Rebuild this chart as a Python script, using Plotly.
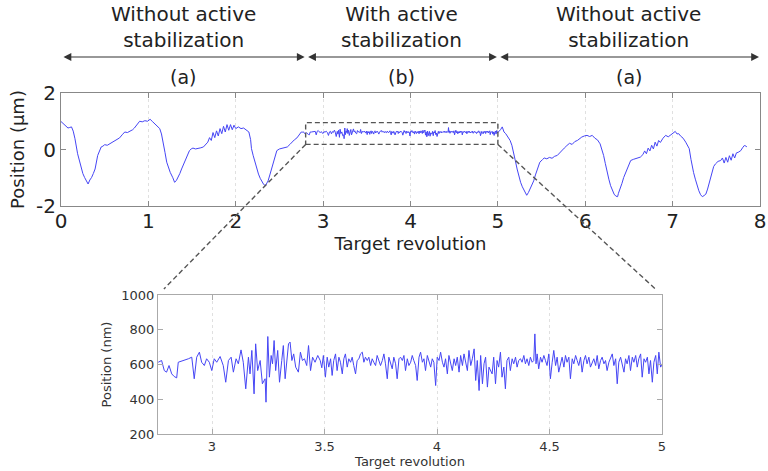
import plotly.graph_objects as go

# ---------------- data ----------------
# Top panel, first part without stabilization (target revolution, position in µm)
segA_x = [0.00, 0.03, 0.06, 0.08, 0.10, 0.12, 0.14, 0.16, 0.19, 0.21,
          0.23, 0.25, 0.27, 0.29, 0.31, 0.33, 0.35, 0.37, 0.39, 0.42,
          0.44, 0.46, 0.48, 0.50, 0.53, 0.56, 0.58, 0.61, 0.64, 0.67,
          0.70, 0.73, 0.76, 0.79, 0.82, 0.84, 0.87, 0.90, 0.93, 0.96,
          0.99, 1.02, 1.05, 1.07, 1.10, 1.13, 1.15, 1.17, 1.19, 1.21,
          1.23, 1.25, 1.28, 1.30, 1.32, 1.34, 1.36, 1.38, 1.40, 1.42,
          1.45, 1.47, 1.49, 1.51, 1.54, 1.57, 1.60, 1.63, 1.66, 1.68,
          1.70, 1.72, 1.74, 1.76, 1.78, 1.80, 1.82, 1.84, 1.86, 1.88,
          1.90, 1.92, 1.94, 1.96, 1.98, 2.00, 2.03, 2.06, 2.09, 2.12,
          2.15, 2.17, 2.18, 2.20, 2.22, 2.24, 2.26, 2.28, 2.30, 2.32,
          2.34, 2.36, 2.37, 2.39, 2.41, 2.44, 2.47, 2.50, 2.53, 2.56,
          2.59, 2.62, 2.64, 2.67, 2.70, 2.73, 2.75]
segA_y = [0.99, 0.90, 0.80, 0.76, 0.78, 0.80, 0.65, 0.38, -0.15, -0.42,
          -0.69, -0.85, -0.99, -1.10, -1.22, -1.08, -0.99, -0.85, -0.69, -0.21,
          -0.05, 0.09, 0.12, 0.17, 0.15, 0.20, 0.24, 0.29, 0.34, 0.41,
          0.52, 0.62, 0.60, 0.64, 0.70, 0.76, 0.88, 1.00, 0.98, 1.02,
          1.00, 1.07, 0.98, 0.92, 0.82, 0.74, 0.55, 0.26, -0.10, -0.45,
          -0.65, -0.81, -1.00, -1.16, -1.10, -0.99, -0.85, -0.69, -0.55, -0.39,
          -0.15, -0.04, 0.02, 0.05, 0.02, 0.03, 0.06, 0.09, 0.18, 0.26,
          0.42, 0.32, 0.60, 0.42, 0.66, 0.48, 0.74, 0.56, 0.82, 0.62,
          0.88, 0.68, 0.88, 0.70, 0.86, 0.74, 0.80, 0.74, 0.76, 0.68,
          0.62, 0.35, 0.03, -0.22, -0.45, -0.68, -0.87, -1.02, -1.16, -1.24,
          -1.28, -1.18, -1.11, -0.90, -0.69, -0.35, -0.04, 0.02, 0.05, 0.06,
          0.09, 0.18, 0.26, 0.34, 0.41, 0.55, 0.62]

# Stabilized part (b), shown enlarged in the lower panel (position in nm)
zoom_x = [2.761, 2.776, 2.788, 2.798, 2.809, 2.821, 2.832, 2.843, 2.850, 2.865,
          2.880, 2.895, 2.910, 2.921, 2.932, 2.944, 2.954, 2.966, 2.976, 2.988,
          2.999, 3.010, 3.021, 3.036, 3.050, 3.061, 3.073, 3.085, 3.095, 3.107,
          3.117, 3.129, 3.139, 3.150, 3.162, 3.169, 3.177, 3.187, 3.194, 3.203,
          3.214, 3.224, 3.236, 3.240, 3.248, 3.255, 3.263, 3.269, 3.276, 3.283,
          3.292, 3.300, 3.310, 3.317, 3.325, 3.334, 3.340, 3.347, 3.355, 3.363,
          3.372, 3.384, 3.393, 3.402, 3.411, 3.421, 3.429, 3.438, 3.447, 3.458,
          3.470, 3.481, 3.488, 3.495,
          3.504, 3.512, 3.519, 3.527, 3.534, 3.541, 3.549, 3.556, 3.564, 3.571,
          3.579, 3.586, 3.593, 3.601, 3.608, 3.616, 3.623, 3.630, 3.638, 3.645,
          3.653, 3.660, 3.668, 3.675, 3.682, 3.690, 3.697, 3.705, 3.712, 3.719,
          3.727, 3.734, 3.742, 3.749, 3.757, 3.764, 3.771, 3.779, 3.786, 3.794,
          3.801, 3.808, 3.816, 3.823, 3.831, 3.838, 3.846, 3.853, 3.860, 3.868,
          3.875, 3.883, 3.890, 3.897, 3.905, 3.912, 3.920, 3.927, 3.935, 3.942,
          3.949, 3.957, 3.964, 3.972, 3.979, 3.986, 3.994, 4.001, 4.009, 4.016,
          4.024, 4.031, 4.038, 4.046, 4.053, 4.061, 4.068, 4.076, 4.083, 4.090,
          4.098, 4.105, 4.113, 4.120, 4.127, 4.135, 4.142, 4.150, 4.157, 4.165,
          4.172, 4.179, 4.187, 4.194, 4.202, 4.209, 4.216, 4.224, 4.231,
          4.245, 4.252, 4.260, 4.267, 4.274, 4.282, 4.289, 4.297, 4.304, 4.311,
          4.319, 4.326, 4.334, 4.341, 4.349, 4.356, 4.363, 4.371, 4.378, 4.386,
          4.393, 4.400, 4.408, 4.415, 4.423, 4.430, 4.435, 4.440, 4.445, 4.452,
          4.460, 4.467, 4.475, 4.482, 4.489, 4.497, 4.504, 4.512, 4.519, 4.527,
          4.534, 4.541, 4.549, 4.556, 4.564, 4.571, 4.578, 4.586, 4.593, 4.601,
          4.608, 4.616, 4.623, 4.630, 4.638, 4.645, 4.653, 4.660, 4.667, 4.675,
          4.682, 4.690, 4.697, 4.705, 4.712, 4.719, 4.727, 4.734, 4.742, 4.749,
          4.756, 4.764, 4.771, 4.779, 4.786, 4.794, 4.801, 4.808, 4.816, 4.823,
          4.831, 4.838, 4.845, 4.853, 4.860, 4.868, 4.875, 4.883, 4.890, 4.897,
          4.905, 4.912, 4.920, 4.927, 4.935, 4.942, 4.949, 4.957, 4.964, 4.972,
          4.979, 4.986, 4.994, 5.000]
zoom_nm = [613, 623, 565, 556, 594, 546, 531, 523, 613, 619,
           623, 633, 642, 518, 642, 671, 613, 594, 633, 613,
           565, 633, 613, 646, 594, 498, 623, 642, 556, 633,
           604, 684, 613, 460, 642, 546, 681, 431, 719, 565,
           623, 489, 518, 383, 761, 527, 652, 604, 738, 565,
           681, 498, 623, 709, 518, 633, 719, 729, 623, 661,
           585, 556, 671, 623, 633, 594, 709, 565, 642, 613,
           652, 623, 581, 652,
           527, 642, 585, 633, 537, 623, 661, 565, 642, 613,
           546, 633, 661, 585, 633, 613, 642, 594, 546, 623,
           633, 661, 671, 613, 642, 623, 642, 594, 633, 613,
           594, 652, 613, 594, 623, 661, 604, 518, 642, 613,
           575, 642, 604, 518, 633, 642, 623, 652, 565, 633,
           594, 613, 652, 623, 594, 508, 642, 671, 613, 633,
           565, 652, 623, 585, 633, 613, 479, 642, 623, 671,
           613, 585, 633, 546, 652, 613, 565, 633, 594, 642,
           556, 652, 594, 661, 604, 565, 681, 594, 633, 690,
           508, 623, 450, 652, 489, 604, 642, 470, 585,
           546, 642, 489, 623, 585, 671, 527, 585, 460, 623,
           642, 565, 633, 604, 642, 585, 623, 633, 613, 652,
           604, 633, 594, 642, 613, 623, 776, 604, 661, 575,
           642, 613, 652, 623, 594, 661, 518, 613, 681, 594,
           642, 556, 613, 642, 585, 652, 613, 642, 518, 633,
           604, 652, 623, 594, 642, 556, 623, 652, 604, 642,
           585, 613, 633, 594, 652, 575, 623, 642, 604, 623,
           565, 613, 642, 661, 594, 633, 489, 613, 642, 594,
           556, 633, 604, 652, 565, 642, 613, 652, 585, 633,
           661, 527, 633, 613, 642, 546, 623, 498, 613, 652,
           546, 671, 585, 604]

# Top panel, last part without stabilization (µm)
segC_x = [5.03, 5.05, 5.07, 5.09, 5.12, 5.14, 5.16, 5.18, 5.20, 5.22,
          5.24, 5.26, 5.28, 5.30, 5.33, 5.35, 5.37, 5.39, 5.41, 5.43,
          5.45, 5.48, 5.51, 5.53, 5.56, 5.59, 5.62, 5.65, 5.68, 5.71,
          5.73, 5.76, 5.79, 5.82, 5.85, 5.88, 5.91, 5.94, 5.96, 5.99,
          6.02, 6.05, 6.08, 6.11, 6.14, 6.17, 6.19, 6.21, 6.23, 6.25,
          6.27, 6.29, 6.31, 6.33, 6.35, 6.37, 6.38, 6.40, 6.42, 6.44,
          6.46, 6.48, 6.50, 6.52, 6.55, 6.58, 6.61, 6.63, 6.66, 6.68,
          6.70, 6.72, 6.74, 6.76, 6.78, 6.80, 6.82, 6.84, 6.86, 6.89,
          6.92, 6.95, 6.98, 7.01, 7.03, 7.05, 7.07, 7.09, 7.12, 7.15,
          7.17, 7.19, 7.21, 7.22, 7.24, 7.26, 7.28, 7.30, 7.32, 7.34,
          7.36, 7.38, 7.40, 7.41, 7.43, 7.45, 7.47, 7.49, 7.52, 7.55,
          7.57, 7.59, 7.61, 7.63, 7.65, 7.67, 7.69, 7.71, 7.73, 7.75,
          7.78, 7.80, 7.82, 7.84, 7.85]
segC_y = [0.70, 0.80, 0.62, 0.56, 0.42, 0.32, 0.15, -0.09, -0.40, -0.69,
          -0.95, -1.16, -1.32, -1.46, -1.62, -1.52, -1.40, -1.25, -1.11, -0.90,
          -0.69, -0.45, -0.36, -0.30, -0.33, -0.28, -0.31, -0.24, -0.21, -0.10,
          -0.04, 0.05, 0.14, 0.22, 0.18, 0.28, 0.32, 0.40, 0.44, 0.48,
          0.50, 0.46, 0.50, 0.40, 0.34, 0.20, 0.00, -0.21, -0.50, -0.81,
          -1.05, -1.28, -1.45, -1.58, -1.65, -1.67, -1.55, -1.40, -1.20, -0.99,
          -0.85, -0.69, -0.52, -0.39, -0.35, -0.33, -0.30, -0.27, -0.18, -0.05,
          -0.15, 0.05, -0.05, 0.15, 0.02, 0.26, 0.12, 0.32, 0.25, 0.40,
          0.50, 0.45, 0.52, 0.58, 0.64, 0.55, 0.56, 0.48, 0.40, 0.26,
          0.15, 0.03, -0.35, -0.57, -0.82, -1.05, -1.28, -1.46, -1.60, -1.67,
          -1.63, -1.58, -1.40, -1.28, -1.00, -0.75, -0.60, -0.51, -0.42, -0.39,
          -0.30, -0.48, -0.28, -0.45, -0.22, -0.38, -0.15, -0.30, -0.12, -0.10,
          -0.04, 0.06, 0.14, 0.12, 0.09]

top_xticks = [0, 1, 2, 3, 4, 5, 6, 7, 8]
top_yticks = [-2, 0, 2]
top_yticklabels = ["-2", "0", "2"]
zoom_xticks = [3, 3.5, 4, 4.5, 5]
zoom_yticks = [200, 400, 600, 800, 1000]

region_bounds = [0, 2.8, 5, 8]
region_titles = ["Without active<br>stabilization",
                 "With active<br>stabilization",
                 "Without active<br>stabilization"]
region_tags = ["(a)", "(b)", "(a)"]
box_x = [2.8, 5.0]
box_y = [0.18, 0.95]

# ---------------- layout geometry ----------------
W, H = 768, 471
TOP_XR, TOP_YR = [0, 8], [-2, 2]
BOT_XR, BOT_YR = [2.76, 5.0], [200, 1000]
TOP_XD = [61 / W, 760 / W]
TOP_YD = [265 / H, 378 / H]
BOT_XD = [158 / W, 662 / W]
BOT_YD = [37 / H, 176 / H]

FONT = "DejaVu Sans"
BLUE = "rgb(50,50,245)"

top_y = segA_y + [v / 1000 for v in zoom_nm] + segC_y
top_x = segA_x + zoom_x + segC_x

fig = go.Figure()
fig.add_trace(go.Scatter(x=top_x, y=top_y, mode="lines",
                         line=dict(color=BLUE, width=1), opacity=0.9,
                         xaxis="x", yaxis="y", showlegend=False))
fig.add_trace(go.Scatter(x=zoom_x, y=zoom_nm, mode="lines",
                         line=dict(color=BLUE, width=1), opacity=0.9,
                         xaxis="x2", yaxis="y2", showlegend=False))

def ax_style(size, color, lc):
    return dict(showline=True, linecolor=lc, linewidth=1, mirror="ticks",
                ticks="inside", ticklen=5, tickcolor=lc, zeroline=False,
                automargin=False, tickfont=dict(family=FONT, size=size, color=color))

fig.update_layout(
    width=W, height=H,
    margin=dict(l=0, r=0, t=0, b=0),
    paper_bgcolor="white", plot_bgcolor="white",
    font=dict(family=FONT, color="#222"),
    xaxis=dict(domain=TOP_XD, range=TOP_XR, tickvals=top_xticks,
               showgrid=True, gridcolor="#e0e0e0", griddash="dot",
               ticklabelstandoff=-3,
               title=dict(text="Target revolution", font=dict(size=18, color="#222"), standoff=0),
               anchor="y", **ax_style(20, "#222", "#888")),
    yaxis=dict(domain=TOP_YD, range=TOP_YR, tickvals=top_yticks, ticktext=top_yticklabels,
               showgrid=False,
               title=dict(text="Position (µm)", font=dict(size=18, color="#222"), standoff=6),
               anchor="x", **ax_style(20, "#222", "#888")),
    xaxis2=dict(domain=BOT_XD, range=BOT_XR, tickvals=zoom_xticks,
                showgrid=True, gridcolor="#e0e0e0", griddash="dot",
                title=dict(text="Target revolution", font=dict(size=13, color="#333"), standoff=2),
                anchor="y2", **ax_style(13, "#333", "#aaa")),
    yaxis2=dict(domain=BOT_YD, range=BOT_YR, tickvals=zoom_yticks,
                showgrid=False,
                title=dict(text="Position (nm)", font=dict(size=13, color="#333"), standoff=6),
                anchor="x2", **ax_style(13, "#333", "#aaa")),
)

def to_paper(v, rng, dom):
    return dom[0] + (v - rng[0]) / (rng[1] - rng[0]) * (dom[1] - dom[0])

annotations = []
ARROW_Y = 0.879
for i in range(3):
    a, b = region_bounds[i], region_bounds[i + 1]
    mid = (a + b) / 2
    annotations.append(dict(x=b, y=ARROW_Y, xref="x", yref="paper",
                            ax=a, ay=0, axref="x", ayref="pixel",
                            showarrow=True, text="", arrowside="end+start",
                            arrowhead=2, startarrowhead=2, arrowsize=1.3,
                            startarrowsize=1.3, arrowwidth=1.2, arrowcolor="#333",
                            standoff=1, startstandoff=1))
    annotations.append(dict(x=mid, y=0.9427, xref="x", yref="paper", showarrow=False,
                            xanchor="center", yanchor="middle",
                            text=region_titles[i], align="center",
                            font=dict(family=FONT, size=20, color="#222")))
    annotations.append(dict(x=mid, y=0.8365, xref="x", yref="paper", showarrow=False,
                            xanchor="center", yanchor="middle",
                            text=region_tags[i],
                            font=dict(family=FONT, size=19, color="#222")))
fig.update_layout(annotations=annotations)

DASH = dict(color="#555", width=1.4, dash="5px,3px")
fig.add_shape(type="rect", xref="x", yref="y", x0=box_x[0], x1=box_x[1],
              y0=box_y[0], y1=box_y[1], line=DASH)

# connector lines: from lower corners of the dashed box to the upper corners of the zoom panel
for bx, zx in ((box_x[0], BOT_XR[0]), (box_x[1], BOT_XR[1])):
    sx, sy = to_paper(bx, TOP_XR, TOP_XD), to_paper(box_y[0], TOP_YR, TOP_YD)
    ex, ey = to_paper(zx, BOT_XR, BOT_XD), to_paper(BOT_YR[1], BOT_YR, BOT_YD)
    ex, ey = ex + 0.04 * (sx - ex), ey + 0.04 * (sy - ey)
    fig.add_shape(type="line", xref="paper", yref="paper",
                  x0=sx, y0=sy, x1=ex, y1=ey, line=DASH)

fig.write_html("out.html", config={"displayModeBar": False},
               post_script="document.body.style.margin='0';")
